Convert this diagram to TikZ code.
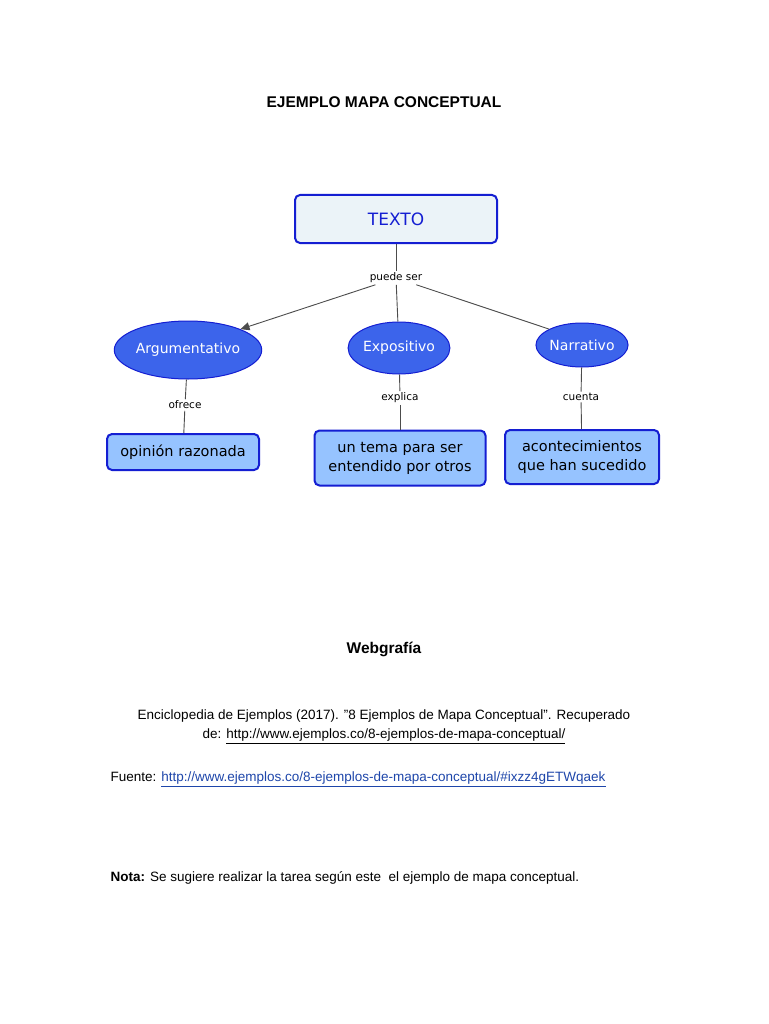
\documentclass[tikz,border=0pt]{standalone}
\usepackage{fontspec}
\setmainfont{Liberation Sans}
\newfontfamily\djv{DejaVu Sans}
\usetikzlibrary{shapes.geometric,arrows.meta}
\definecolor{edge}{RGB}{20,30,210}
\definecolor{ellfill}{RGB}{60,100,235}
\definecolor{boxfill}{RGB}{150,195,255}
\definecolor{topfill}{RGB}{235,243,248}
\definecolor{lnk}{RGB}{30,70,170}
\begin{document}
\begin{tikzpicture}[x=1pt,y=-1pt,
 top/.style={draw=edge,line width=2pt,rounded corners=5pt,fill=topfill,minimum width=202pt,minimum height=48pt,font=\djv\fontsize{17}{20}\selectfont,text=edge},
 ell/.style={ellipse,draw=edge,line width=1pt,fill=ellfill,text=white,font=\djv\fontsize{14}{16}\selectfont,inner sep=0pt},
 bx/.style={draw=edge,line width=2pt,rounded corners=5pt,fill=boxfill,align=center,font=\djv\fontsize{14.5}{19}\selectfont,inner sep=2pt},
 lab/.style={font=\djv\fontsize{10.5}{12}\selectfont,fill=white,inner sep=1.5pt},
 ln/.style={draw=black!70,line width=0.9pt},
 txt/.style={font=\fontsize{13.5}{19}\selectfont,align=center}]
\useasboundingbox[fill=white] (0,0) rectangle (768,1024);
\node[font=\bfseries\fontsize{15.5}{18}\selectfont] (title) at (384,102) {EJEMPLO MAPA CONCEPTUAL};
\node[top] (t) at (396,219) {TEXTO};
\node[lab] (ps) at (396,278) {puede ser};
\node[ell,minimum width=136pt,minimum height=58pt] (a) at (188,350) {Argumentativo};
\node[ell,minimum width=100pt,minimum height=52pt] (e) at (399,348) {Expositivo};
\node[ell,minimum width=92pt,minimum height=44pt] (n) at (582,345) {Narrativo};
\node[lab] (of) at (185,405) {ofrece};
\node[lab] (ex) at (400,398) {explica};
\node[lab] (cu) at (581,397) {cuenta};
\node[bx,minimum width=152pt,minimum height=36pt] (o) at (183,452) {opinión razonada};
\node[bx,minimum width=171pt,minimum height=55pt] (u) at (400,458) {un tema para ser\\entendido por otros};
\node[bx,minimum width=154pt,minimum height=54pt] (c) at (582,457) {acontecimientos\\que han sucedido};
\draw[ln] (t) -- (ps);
\draw[ln,-{Triangle[length=9pt,width=8pt]}] (ps) -- (a.north east);
\draw[ln] (ps) -- (e);
\draw[ln] (ps) -- (n.north west);
\draw[ln] (a) -- (of); \draw[ln] (of) -- (o);
\draw[ln] (e) -- (ex); \draw[ln] (ex) -- (u);
\draw[ln] (n) -- (cu); \draw[ln] (cu) -- (c);
\node[font=\bfseries\fontsize{15.5}{18}\selectfont] (w) at (384,649) {Webgrafía};
\node[txt] (r1) at (384,727) {Enciclopedia de Ejemplos (2017). "8 Ejemplos de Mapa Conceptual". Recuperado\\de: \underline{http://www.ejemplos.co/8-ejemplos-de-mapa-conceptual/}};
\node[txt,anchor=west] (f) at (107,779) {Fuente: {\color{lnk}\underline{http://www.ejemplos.co/8-ejemplos-de-mapa-conceptual/\#ixzz4gETWqaek}}};
\node[txt,anchor=west] (nt) at (107,878) {\textbf{Nota:} Se sugiere realizar la tarea según este\ \ el ejemplo de mapa conceptual.};
\end{tikzpicture}
\end{document}
